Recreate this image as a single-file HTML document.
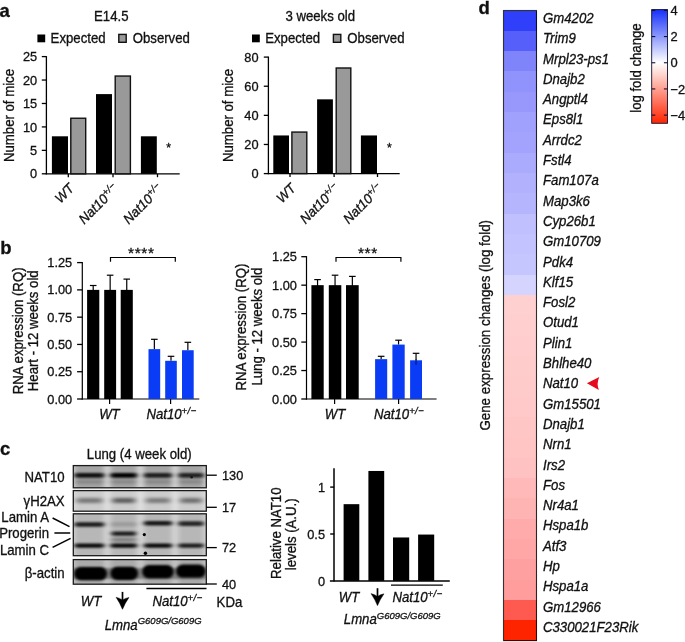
<!DOCTYPE html>
<html><head><meta charset="utf-8"><title>Figure</title>
<style>html,body{margin:0;padding:0;background:#fff}svg{display:block}text{font-family:"Liberation Sans",Arial,Helvetica,sans-serif;fill:#111;stroke:#111;stroke-width:0.3px}</style></head>
<body>
<svg width="685" height="642" viewBox="0 0 685 642">
<rect width="685" height="642" fill="#fff"/>
<text font-size="18.5" text-anchor="start" font-weight="bold" transform="translate(-0.6 16.6)">a</text>
<text font-size="18.5" text-anchor="start" font-weight="bold" transform="translate(0.2 253.5)">b</text>
<text font-size="18.5" text-anchor="start" font-weight="bold" transform="translate(0.1 455.4)">c</text>
<text font-size="18.5" text-anchor="start" font-weight="bold" transform="translate(478.6 14.0) scale(1 0.96)">d</text>
<text font-size="13.2" text-anchor="start" transform="translate(94 20.6) scale(1 1.04)">E14.5</text>
<rect x="37.40" y="34.50" width="7.80" height="7.80" fill="#000"/>
<text font-size="13.2" text-anchor="start" transform="translate(50.599999999999994 42.6) scale(1 1.04)">Expected</text>
<rect x="118.80" y="34.40" width="7.40" height="7.90" fill="#999" stroke="#111" stroke-width="1.4"/>
<text font-size="13.2" text-anchor="start" transform="translate(132.7 42.6) scale(1 1.04)">Observed</text>
<line x1="46.4" y1="56.1" x2="46.4" y2="174.4" stroke="#000" stroke-width="1.3" stroke-linecap="butt"/>
<line x1="45.8" y1="173.8" x2="179.7" y2="173.8" stroke="#000" stroke-width="1.35" stroke-linecap="butt"/>
<line x1="41.8" y1="173.8" x2="46.4" y2="173.8" stroke="#000" stroke-width="1.3" stroke-linecap="butt"/>
<text font-size="12.8" text-anchor="end" transform="translate(37.2 178.4) scale(1 1.04)">0</text>
<line x1="41.8" y1="150.36" x2="46.4" y2="150.36" stroke="#000" stroke-width="1.3" stroke-linecap="butt"/>
<text font-size="12.8" text-anchor="end" transform="translate(37.2 154.96) scale(1 1.04)">5</text>
<line x1="41.8" y1="126.92" x2="46.4" y2="126.92" stroke="#000" stroke-width="1.3" stroke-linecap="butt"/>
<text font-size="12.8" text-anchor="end" transform="translate(37.2 131.52) scale(1 1.04)">10</text>
<line x1="41.8" y1="103.48" x2="46.4" y2="103.48" stroke="#000" stroke-width="1.3" stroke-linecap="butt"/>
<text font-size="12.8" text-anchor="end" transform="translate(37.2 108.08) scale(1 1.04)">15</text>
<line x1="41.8" y1="80.03999999999999" x2="46.4" y2="80.03999999999999" stroke="#000" stroke-width="1.3" stroke-linecap="butt"/>
<text font-size="12.8" text-anchor="end" transform="translate(37.2 84.63999999999999) scale(1 1.04)">20</text>
<line x1="41.8" y1="56.599999999999994" x2="46.4" y2="56.599999999999994" stroke="#000" stroke-width="1.3" stroke-linecap="butt"/>
<text font-size="12.8" text-anchor="end" transform="translate(37.2 61.199999999999996) scale(1 1.04)">25</text>
<rect x="51.90" y="136.30" width="16.10" height="37.50" fill="#000"/>
<rect x="70.80" y="118.24" width="14.90" height="55.56" fill="#999" stroke="#111" stroke-width="1.4"/>
<rect x="96.00" y="94.10" width="16.00" height="79.70" fill="#000"/>
<rect x="115.20" y="76.05" width="15.20" height="97.75" fill="#999" stroke="#111" stroke-width="1.4"/>
<rect x="140.90" y="136.30" width="15.90" height="37.50" fill="#000"/>
<line x1="68.3" y1="173.8" x2="68.3" y2="177.20000000000002" stroke="#000" stroke-width="1.3" stroke-linecap="butt"/>
<text font-size="13.2" text-anchor="end" font-style="italic" transform="translate(74.89999999999999 189.4) rotate(-45) scale(1 1.04)">WT</text>
<line x1="113" y1="173.8" x2="113" y2="177.20000000000002" stroke="#000" stroke-width="1.3" stroke-linecap="butt"/>
<text font-size="13.2" text-anchor="end" font-style="italic" transform="translate(119.6 189.4) rotate(-45) scale(1 1.04)">Nat10<tspan font-size="9.5" dy="-4.6" letter-spacing="0.3">+/&#8722;</tspan></text>
<line x1="157.5" y1="173.8" x2="157.5" y2="177.20000000000002" stroke="#000" stroke-width="1.3" stroke-linecap="butt"/>
<text font-size="13.2" text-anchor="end" font-style="italic" transform="translate(164.1 189.4) rotate(-45) scale(1 1.04)">Nat10<tspan font-size="9.5" dy="-4.6" letter-spacing="0.3">+/&#8722;</tspan></text>
<text font-size="12.2" text-anchor="middle" transform="translate(168.6 151.7)" stroke-width="0.6">*</text>
<text font-size="13.2" text-anchor="middle" transform="translate(13.7 115.5) rotate(-90) scale(1 1.04)">Number of mice</text>
<text font-size="13.2" text-anchor="start" transform="translate(285.4 20.6) scale(1 1.04)">3 weeks old</text>
<rect x="252.00" y="34.50" width="7.80" height="7.80" fill="#000"/>
<text font-size="13.2" text-anchor="start" transform="translate(265.2 42.6) scale(1 1.04)">Expected</text>
<rect x="333.40" y="34.40" width="7.40" height="7.90" fill="#999" stroke="#111" stroke-width="1.4"/>
<text font-size="13.2" text-anchor="start" transform="translate(347.3 42.6) scale(1 1.04)">Observed</text>
<line x1="268.4" y1="56.6" x2="268.4" y2="174.2" stroke="#000" stroke-width="1.3" stroke-linecap="butt"/>
<line x1="267.79999999999995" y1="173.6" x2="399.7" y2="173.6" stroke="#000" stroke-width="1.35" stroke-linecap="butt"/>
<line x1="263.79999999999995" y1="173.6" x2="268.4" y2="173.6" stroke="#000" stroke-width="1.3" stroke-linecap="butt"/>
<text font-size="12.8" text-anchor="end" transform="translate(258.6 178.2) scale(1 1.04)">0</text>
<line x1="263.79999999999995" y1="144.475" x2="268.4" y2="144.475" stroke="#000" stroke-width="1.3" stroke-linecap="butt"/>
<text font-size="12.8" text-anchor="end" transform="translate(258.6 149.075) scale(1 1.04)">20</text>
<line x1="263.79999999999995" y1="115.35" x2="268.4" y2="115.35" stroke="#000" stroke-width="1.3" stroke-linecap="butt"/>
<text font-size="12.8" text-anchor="end" transform="translate(258.6 119.94999999999999) scale(1 1.04)">40</text>
<line x1="263.79999999999995" y1="86.225" x2="268.4" y2="86.225" stroke="#000" stroke-width="1.3" stroke-linecap="butt"/>
<text font-size="12.8" text-anchor="end" transform="translate(258.6 90.82499999999999) scale(1 1.04)">60</text>
<line x1="263.79999999999995" y1="57.099999999999994" x2="268.4" y2="57.099999999999994" stroke="#000" stroke-width="1.3" stroke-linecap="butt"/>
<text font-size="12.8" text-anchor="end" transform="translate(258.6 61.699999999999996) scale(1 1.04)">80</text>
<rect x="273.30" y="135.45" width="15.70" height="38.15" fill="#000"/>
<rect x="291.90" y="132.07" width="14.90" height="41.53" fill="#999" stroke="#111" stroke-width="1.4"/>
<rect x="317.10" y="99.33" width="15.80" height="74.27" fill="#000"/>
<rect x="336.20" y="67.99" width="14.60" height="105.61" fill="#999" stroke="#111" stroke-width="1.4"/>
<rect x="360.90" y="135.45" width="16.10" height="38.15" fill="#000"/>
<line x1="290" y1="173.6" x2="290" y2="177.0" stroke="#000" stroke-width="1.3" stroke-linecap="butt"/>
<text font-size="13.2" text-anchor="end" font-style="italic" transform="translate(296.6 189.2) rotate(-45) scale(1 1.04)">WT</text>
<line x1="334.1" y1="173.6" x2="334.1" y2="177.0" stroke="#000" stroke-width="1.3" stroke-linecap="butt"/>
<text font-size="13.2" text-anchor="end" font-style="italic" transform="translate(340.70000000000005 189.2) rotate(-45) scale(1 1.04)">Nat10<tspan font-size="9.5" dy="-4.6" letter-spacing="0.3">+/&#8722;</tspan></text>
<line x1="377.5" y1="173.6" x2="377.5" y2="177.0" stroke="#000" stroke-width="1.3" stroke-linecap="butt"/>
<text font-size="13.2" text-anchor="end" font-style="italic" transform="translate(384.1 189.2) rotate(-45) scale(1 1.04)">Nat10<tspan font-size="9.5" dy="-4.6" letter-spacing="0.3">+/&#8722;</tspan></text>
<text font-size="12.2" text-anchor="middle" transform="translate(389.3 151.7)" stroke-width="0.6">*</text>
<text font-size="13.2" text-anchor="middle" transform="translate(233.2 115.5) rotate(-90) scale(1 1.04)">Number of mice</text>
<line x1="82.3" y1="262.1" x2="82.3" y2="399.6" stroke="#000" stroke-width="1.2" stroke-linecap="butt"/>
<line x1="81.7" y1="399.0" x2="199.3" y2="399.0" stroke="#000" stroke-width="1.15" stroke-linecap="butt"/>
<line x1="77.1" y1="399.0" x2="82.3" y2="399.0" stroke="#000" stroke-width="1.3" stroke-linecap="butt"/>
<text font-size="12.8" text-anchor="end" transform="translate(72.2 403.6) scale(1 1.04)">0.00</text>
<line x1="77.1" y1="371.72" x2="82.3" y2="371.72" stroke="#000" stroke-width="1.3" stroke-linecap="butt"/>
<text font-size="12.8" text-anchor="end" transform="translate(72.2 376.32000000000005) scale(1 1.04)">0.25</text>
<line x1="77.1" y1="344.44" x2="82.3" y2="344.44" stroke="#000" stroke-width="1.3" stroke-linecap="butt"/>
<text font-size="12.8" text-anchor="end" transform="translate(72.2 349.04) scale(1 1.04)">0.50</text>
<line x1="77.1" y1="317.16" x2="82.3" y2="317.16" stroke="#000" stroke-width="1.3" stroke-linecap="butt"/>
<text font-size="12.8" text-anchor="end" transform="translate(72.2 321.76000000000005) scale(1 1.04)">0.75</text>
<line x1="77.1" y1="289.88" x2="82.3" y2="289.88" stroke="#000" stroke-width="1.3" stroke-linecap="butt"/>
<text font-size="12.8" text-anchor="end" transform="translate(72.2 294.48) scale(1 1.04)">1.00</text>
<line x1="77.1" y1="262.6" x2="82.3" y2="262.6" stroke="#000" stroke-width="1.3" stroke-linecap="butt"/>
<text font-size="12.8" text-anchor="end" transform="translate(72.2 267.20000000000005) scale(1 1.04)">1.25</text>
<line x1="93.19999999999999" y1="285.5" x2="93.19999999999999" y2="291.88" stroke="#000" stroke-width="1.2" stroke-linecap="butt"/>
<line x1="89.89999999999999" y1="285.5" x2="96.49999999999999" y2="285.5" stroke="#000" stroke-width="1.2" stroke-linecap="butt"/>
<rect x="87.10" y="289.88" width="12.20" height="109.12" fill="#000"/>
<line x1="110.15" y1="275.2" x2="110.15" y2="291.88" stroke="#000" stroke-width="1.2" stroke-linecap="butt"/>
<line x1="106.85000000000001" y1="275.2" x2="113.45" y2="275.2" stroke="#000" stroke-width="1.2" stroke-linecap="butt"/>
<rect x="104.20" y="289.88" width="11.90" height="109.12" fill="#000"/>
<line x1="126.75" y1="279.1" x2="126.75" y2="291.88" stroke="#000" stroke-width="1.2" stroke-linecap="butt"/>
<line x1="123.45" y1="279.1" x2="130.05" y2="279.1" stroke="#000" stroke-width="1.2" stroke-linecap="butt"/>
<rect x="120.70" y="289.88" width="12.10" height="109.12" fill="#000"/>
<line x1="154.35" y1="339.3" x2="154.35" y2="349.13216" stroke="#000" stroke-width="1.2" stroke-linecap="butt"/>
<line x1="151.04999999999998" y1="339.3" x2="157.65" y2="339.3" stroke="#000" stroke-width="1.2" stroke-linecap="butt"/>
<rect x="148.50" y="349.13" width="11.70" height="49.87" fill="#0a3cf5"/>
<line x1="171.0" y1="356.3" x2="171.0" y2="360.808" stroke="#000" stroke-width="1.2" stroke-linecap="butt"/>
<line x1="167.7" y1="356.3" x2="174.3" y2="356.3" stroke="#000" stroke-width="1.2" stroke-linecap="butt"/>
<rect x="165.20" y="360.81" width="11.60" height="38.19" fill="#0a3cf5"/>
<line x1="187.85" y1="342.3" x2="187.85" y2="350.22336" stroke="#000" stroke-width="1.2" stroke-linecap="butt"/>
<line x1="184.54999999999998" y1="342.3" x2="191.15" y2="342.3" stroke="#000" stroke-width="1.2" stroke-linecap="butt"/>
<rect x="182.00" y="350.22" width="11.70" height="48.78" fill="#0a3cf5"/>
<line x1="109.6" y1="399.0" x2="109.6" y2="403.9" stroke="#000" stroke-width="1.2" stroke-linecap="butt"/>
<line x1="170.6" y1="399.0" x2="170.6" y2="403.9" stroke="#000" stroke-width="1.2" stroke-linecap="butt"/>
<text font-size="13.2" text-anchor="middle" font-style="italic" transform="translate(109.4 419.2) scale(1 1.04)">WT</text>
<text font-size="13.2" text-anchor="start" font-style="italic" transform="translate(146.4 419.2) scale(1 1.04)">Nat10<tspan font-size="9.5" dy="-4.6" letter-spacing="0.3">+/&#8722;</tspan></text>
<polyline points="110.5,261.8 110.5,257.5 175.3,257.5 175.3,261.8" fill="none" stroke="#000" stroke-width="1.2"/>
<text font-size="15.5" text-anchor="middle" transform="translate(141.3 257.8)" letter-spacing="0.6" stroke-width="0.65">****</text>
<text font-size="13.2" text-anchor="start" transform="translate(22.5 394.20000000000005) rotate(-90) scale(1 1.05)">RNA expression (RQ)</text>
<text font-size="13.2" text-anchor="start" transform="translate(38.400000000000006 391.20000000000005) rotate(-90) scale(1 1.05)">Heart - 12 weeks old</text>
<line x1="306.5" y1="256.2" x2="306.5" y2="399.6" stroke="#000" stroke-width="1.2" stroke-linecap="butt"/>
<line x1="305.9" y1="399.0" x2="436.6" y2="399.0" stroke="#000" stroke-width="1.15" stroke-linecap="butt"/>
<line x1="301.3" y1="399.0" x2="306.5" y2="399.0" stroke="#000" stroke-width="1.3" stroke-linecap="butt"/>
<text font-size="12.8" text-anchor="end" transform="translate(297.0 403.6) scale(1 1.04)">0.00</text>
<line x1="301.3" y1="370.54" x2="306.5" y2="370.54" stroke="#000" stroke-width="1.3" stroke-linecap="butt"/>
<text font-size="12.8" text-anchor="end" transform="translate(297.0 375.14000000000004) scale(1 1.04)">0.25</text>
<line x1="301.3" y1="342.08" x2="306.5" y2="342.08" stroke="#000" stroke-width="1.3" stroke-linecap="butt"/>
<text font-size="12.8" text-anchor="end" transform="translate(297.0 346.68) scale(1 1.04)">0.50</text>
<line x1="301.3" y1="313.62" x2="306.5" y2="313.62" stroke="#000" stroke-width="1.3" stroke-linecap="butt"/>
<text font-size="12.8" text-anchor="end" transform="translate(297.0 318.22) scale(1 1.04)">0.75</text>
<line x1="301.3" y1="285.15999999999997" x2="306.5" y2="285.15999999999997" stroke="#000" stroke-width="1.3" stroke-linecap="butt"/>
<text font-size="12.8" text-anchor="end" transform="translate(297.0 289.76) scale(1 1.04)">1.00</text>
<line x1="301.3" y1="256.7" x2="306.5" y2="256.7" stroke="#000" stroke-width="1.3" stroke-linecap="butt"/>
<text font-size="12.8" text-anchor="end" transform="translate(297.0 261.3) scale(1 1.04)">1.25</text>
<line x1="317.54999999999995" y1="279.6" x2="317.54999999999995" y2="287.15999999999997" stroke="#000" stroke-width="1.2" stroke-linecap="butt"/>
<line x1="314.24999999999994" y1="279.6" x2="320.84999999999997" y2="279.6" stroke="#000" stroke-width="1.2" stroke-linecap="butt"/>
<rect x="311.40" y="285.16" width="12.30" height="113.84" fill="#000"/>
<line x1="335.05" y1="275.2" x2="335.05" y2="287.15999999999997" stroke="#000" stroke-width="1.2" stroke-linecap="butt"/>
<line x1="331.75" y1="275.2" x2="338.35" y2="275.2" stroke="#000" stroke-width="1.2" stroke-linecap="butt"/>
<rect x="328.80" y="285.16" width="12.50" height="113.84" fill="#000"/>
<line x1="352.35" y1="276.4" x2="352.35" y2="287.15999999999997" stroke="#000" stroke-width="1.2" stroke-linecap="butt"/>
<line x1="349.05" y1="276.4" x2="355.65000000000003" y2="276.4" stroke="#000" stroke-width="1.2" stroke-linecap="butt"/>
<rect x="346.00" y="285.16" width="12.70" height="113.84" fill="#000"/>
<line x1="381.15000000000003" y1="356.3" x2="381.15000000000003" y2="359.156" stroke="#000" stroke-width="1.2" stroke-linecap="butt"/>
<line x1="377.85" y1="356.3" x2="384.45000000000005" y2="356.3" stroke="#000" stroke-width="1.2" stroke-linecap="butt"/>
<rect x="375.10" y="359.16" width="12.10" height="39.84" fill="#0a3cf5"/>
<line x1="398.54999999999995" y1="340.2" x2="398.54999999999995" y2="344.58448" stroke="#000" stroke-width="1.2" stroke-linecap="butt"/>
<line x1="395.24999999999994" y1="340.2" x2="401.84999999999997" y2="340.2" stroke="#000" stroke-width="1.2" stroke-linecap="butt"/>
<rect x="392.40" y="344.58" width="12.30" height="54.42" fill="#0a3cf5"/>
<line x1="416.05" y1="353.3" x2="416.05" y2="360.2944" stroke="#000" stroke-width="1.2" stroke-linecap="butt"/>
<line x1="412.75" y1="353.3" x2="419.35" y2="353.3" stroke="#000" stroke-width="1.2" stroke-linecap="butt"/>
<rect x="410.10" y="360.29" width="11.90" height="38.71" fill="#0a3cf5"/>
<line x1="416.05" y1="359.2944" x2="416.05" y2="364.7944" stroke="#0a1a70" stroke-width="1.2" stroke-linecap="butt"/>
<line x1="334.6" y1="399.0" x2="334.6" y2="403.9" stroke="#000" stroke-width="1.2" stroke-linecap="butt"/>
<line x1="398.6" y1="399.0" x2="398.6" y2="403.9" stroke="#000" stroke-width="1.2" stroke-linecap="butt"/>
<text font-size="13.2" text-anchor="middle" font-style="italic" transform="translate(335.0 419.2) scale(1 1.04)">WT</text>
<text font-size="13.2" text-anchor="start" font-style="italic" transform="translate(374.0 419.2) scale(1 1.04)">Nat10<tspan font-size="9.5" dy="-4.6" letter-spacing="0.3">+/&#8722;</tspan></text>
<polyline points="336,261.8 336,257.5 400.9,257.5 400.9,261.8" fill="none" stroke="#000" stroke-width="1.2"/>
<text font-size="15.5" text-anchor="middle" transform="translate(367.9 257.8)" letter-spacing="0.6" stroke-width="0.65">***</text>
<text font-size="13.2" text-anchor="start" transform="translate(245.89999999999998 390.40000000000003) rotate(-90) scale(1 1.05)">RNA expression (RQ)</text>
<text font-size="13.2" text-anchor="start" transform="translate(262.2 385.6) rotate(-90) scale(1 1.05)">Lung - 12 weeks old</text>
<text font-size="13.2" text-anchor="start" transform="translate(86.8 458.5) scale(1 1.04)">Lung (4 week old)</text>
<text font-size="13.2" text-anchor="end" transform="translate(64.6 481.7) scale(1 1.04)">NAT10</text>
<text font-size="13.2" text-anchor="end" transform="translate(64.6 506.4) scale(1 1.04)">&#947;H2AX</text>
<text font-size="13.2" text-anchor="end" transform="translate(49.0 522.1) scale(1 1.04)">Lamin A</text>
<text font-size="13.2" text-anchor="end" transform="translate(49.0 538.3) scale(1 1.04)">Progerin</text>
<text font-size="13.2" text-anchor="end" transform="translate(49.0 554.7) scale(1 1.04)">Lamin C</text>
<text font-size="13.2" text-anchor="end" transform="translate(64.6 577.8) scale(1 1.04)">&#946;-actin</text>
<line x1="52.6" y1="518" x2="69.5" y2="526.6" stroke="#000" stroke-width="1.5" stroke-linecap="butt"/>
<line x1="54.4" y1="533" x2="70.2" y2="533" stroke="#000" stroke-width="1.5" stroke-linecap="butt"/>
<line x1="52.6" y1="547.4" x2="70.6" y2="538.3" stroke="#000" stroke-width="1.5" stroke-linecap="butt"/>
<defs>
<filter id="b1" x="-20%" y="-200%" width="140%" height="500%"><feGaussianBlur stdDeviation="2.4 1.25"/></filter>
<filter id="b2" x="-20%" y="-200%" width="140%" height="500%"><feGaussianBlur stdDeviation="3 1.7"/></filter>
<filter id="b3" x="-20%" y="-100%" width="140%" height="300%"><feGaussianBlur stdDeviation="1.7 1.3"/></filter>
<filter id="b4" x="-30%" y="-30%" width="160%" height="160%"><feGaussianBlur stdDeviation="2.5 3"/></filter>
<clipPath id="cp0"><rect x="73.3" y="465.6" width="133.0" height="22.19999999999999"/></clipPath>
<clipPath id="cp1"><rect x="73.3" y="490.6" width="133.0" height="20.599999999999966"/></clipPath>
<clipPath id="cp2"><rect x="73.3" y="513.8" width="133.0" height="41.90000000000009"/></clipPath>
<clipPath id="cp3"><rect x="73.3" y="559.6" width="133.0" height="24.600000000000023"/></clipPath>
</defs>
<rect x="73.30" y="465.60" width="133.00" height="22.20" fill="#d2d2d2"/>
<g clip-path="url(#cp0)">
<rect x="74.9" y="461.6" width="29" height="30.19999999999999" fill="#000" opacity="0.22" filter="url(#b4)"/>
<rect x="110.7" y="461.6" width="26" height="30.19999999999999" fill="#000" opacity="0.22" filter="url(#b4)"/>
<rect x="144.2" y="461.6" width="27.5" height="30.19999999999999" fill="#000" opacity="0.22" filter="url(#b4)"/>
<rect x="178.5" y="461.6" width="25" height="30.19999999999999" fill="#000" opacity="0.22" filter="url(#b4)"/>
<rect x="74.4" y="473.1" width="30" height="4.6" rx="2.3" fill="#000" opacity="0.9" filter="url(#b1)"/>
<rect x="74.9" y="480.1" width="29" height="3.4" rx="1.7" fill="#000" opacity="0.2" filter="url(#b2)"/>
<rect x="110.2" y="473.1" width="27" height="4.6" rx="2.3" fill="#000" opacity="1.0" filter="url(#b1)"/>
<rect x="110.7" y="480.1" width="26" height="3.4" rx="1.7" fill="#000" opacity="0.2" filter="url(#b2)"/>
<rect x="143.7" y="473.1" width="28.5" height="4.6" rx="2.3" fill="#000" opacity="0.82" filter="url(#b1)"/>
<rect x="144.2" y="480.1" width="27.5" height="3.4" rx="1.7" fill="#000" opacity="0.2" filter="url(#b2)"/>
<rect x="178.0" y="473.1" width="26" height="4.6" rx="2.3" fill="#000" opacity="0.8" filter="url(#b1)"/>
<rect x="178.5" y="480.1" width="25" height="3.4" rx="1.7" fill="#000" opacity="0.2" filter="url(#b2)"/>
<circle cx="191.6" cy="477.2" r="1.3" fill="#000" opacity="0.7"/>
</g>
<rect x="73.30" y="465.60" width="133.00" height="22.20" fill="none" stroke="#1a1a1a" stroke-width="1.3"/>
<rect x="73.30" y="490.60" width="133.00" height="20.60" fill="#dedede"/>
<g clip-path="url(#cp1)">
<rect x="74.9" y="486.6" width="29" height="28.599999999999966" fill="#000" opacity="0.08" filter="url(#b4)"/>
<rect x="110.7" y="486.6" width="26" height="28.599999999999966" fill="#000" opacity="0.08" filter="url(#b4)"/>
<rect x="144.2" y="486.6" width="27.5" height="28.599999999999966" fill="#000" opacity="0.08" filter="url(#b4)"/>
<rect x="178.5" y="486.6" width="25" height="28.599999999999966" fill="#000" opacity="0.08" filter="url(#b4)"/>
<rect x="76.4" y="498.1" width="26" height="5.0" rx="2.5" fill="#000" opacity="0.42" filter="url(#b2)"/>
<rect x="112.2" y="498.1" width="23" height="5.0" rx="2.5" fill="#000" opacity="0.55" filter="url(#b2)"/>
<rect x="145.7" y="498.1" width="24.5" height="5.0" rx="2.5" fill="#000" opacity="0.4" filter="url(#b2)"/>
<rect x="180.0" y="498.1" width="22" height="5.0" rx="2.5" fill="#000" opacity="0.46" filter="url(#b2)"/>
</g>
<rect x="73.30" y="490.60" width="133.00" height="20.60" fill="none" stroke="#1a1a1a" stroke-width="1.3"/>
<rect x="73.30" y="513.80" width="133.00" height="41.90" fill="#d3d3d3"/>
<g clip-path="url(#cp2)">
<rect x="74.9" y="509.79999999999995" width="29" height="49.90000000000009" fill="#000" opacity="0.13" filter="url(#b4)"/>
<rect x="110.7" y="509.79999999999995" width="26" height="49.90000000000009" fill="#000" opacity="0.13" filter="url(#b4)"/>
<rect x="144.2" y="509.79999999999995" width="27.5" height="49.90000000000009" fill="#000" opacity="0.13" filter="url(#b4)"/>
<rect x="178.5" y="509.79999999999995" width="25" height="49.90000000000009" fill="#000" opacity="0.13" filter="url(#b4)"/>
<rect x="74.4" y="522.2" width="30" height="4.6" rx="2.3" fill="#000" opacity="0.85" filter="url(#b1)"/>
<rect x="110.2" y="521.9" width="27" height="4.6" rx="2.3" fill="#000" opacity="0.14" filter="url(#b1)"/>
<rect x="143.7" y="521.0" width="28.5" height="4.6" rx="2.3" fill="#000" opacity="0.88" filter="url(#b1)"/>
<rect x="178.0" y="521.3" width="26" height="4.6" rx="2.3" fill="#000" opacity="0.8" filter="url(#b1)"/>
<rect x="111.2" y="531.5" width="25" height="4.2" rx="2.1" fill="#000" opacity="0.85" filter="url(#b1)"/>
<rect x="111.2" y="538.3" width="25" height="3.0" rx="1.5" fill="#000" opacity="0.4" filter="url(#b2)"/>
<rect x="74.4" y="543.5" width="30" height="4.2" rx="2.1" fill="#000" opacity="0.95" filter="url(#b1)"/>
<rect x="110.2" y="543.5" width="27" height="4.2" rx="2.1" fill="#000" opacity="0.95" filter="url(#b1)"/>
<rect x="143.7" y="543.5" width="28.5" height="4.2" rx="2.1" fill="#000" opacity="0.95" filter="url(#b1)"/>
<rect x="178.0" y="543.5" width="26" height="4.2" rx="2.1" fill="#000" opacity="0.85" filter="url(#b1)"/>
<circle cx="144.3" cy="534.6" r="1.6" fill="#000"/>
<circle cx="145.4" cy="553.3" r="1.7" fill="#000"/>
</g>
<rect x="73.30" y="513.80" width="133.00" height="41.90" fill="none" stroke="#1a1a1a" stroke-width="1.3"/>
<rect x="73.30" y="559.60" width="133.00" height="24.60" fill="#c6c6c6"/>
<g clip-path="url(#cp3)">
<rect x="74.9" y="555.6" width="29" height="32.60000000000002" fill="#000" opacity="0.14" filter="url(#b4)"/>
<rect x="110.7" y="555.6" width="26" height="32.60000000000002" fill="#000" opacity="0.14" filter="url(#b4)"/>
<rect x="144.2" y="555.6" width="27.5" height="32.60000000000002" fill="#000" opacity="0.14" filter="url(#b4)"/>
<rect x="178.5" y="555.6" width="25" height="32.60000000000002" fill="#000" opacity="0.14" filter="url(#b4)"/>
<rect x="73.3" y="568" width="133.0" height="11" fill="#000" opacity="0.35" filter="url(#b3)"/>
<rect x="74.1" y="567.0" width="33" height="13.2" rx="6.6" fill="#000" opacity="1.0" filter="url(#b3)"/>
<rect x="110.5" y="566.7" width="27.5" height="13.2" rx="6.6" fill="#000" opacity="1.0" filter="url(#b3)"/>
<rect x="142.2" y="565.1" width="31.5" height="13.2" rx="6.6" fill="#000" opacity="1.0" filter="url(#b3)"/>
<rect x="176.1" y="564.4" width="29.5" height="13.2" rx="6.6" fill="#000" opacity="1.0" filter="url(#b3)"/>
</g>
<rect x="73.30" y="559.60" width="133.00" height="24.60" fill="none" stroke="#1a1a1a" stroke-width="1.3"/>
<line x1="206.3" y1="475.2" x2="216.8" y2="475.2" stroke="#000" stroke-width="1.3" stroke-linecap="butt"/>
<text font-size="12.8" text-anchor="start" transform="translate(222.0 479.6) scale(1 1.04)">130</text>
<line x1="206.3" y1="507.3" x2="216.8" y2="507.3" stroke="#000" stroke-width="1.3" stroke-linecap="butt"/>
<text font-size="12.8" text-anchor="start" transform="translate(222.0 512.0) scale(1 1.04)">17</text>
<line x1="206.3" y1="547.6" x2="216.8" y2="547.6" stroke="#000" stroke-width="1.3" stroke-linecap="butt"/>
<text font-size="12.8" text-anchor="start" transform="translate(222.0 552.2) scale(1 1.04)">72</text>
<line x1="206.3" y1="584.0" x2="216.8" y2="584.0" stroke="#000" stroke-width="1.3" stroke-linecap="butt"/>
<text font-size="12.8" text-anchor="start" transform="translate(222.0 588.7) scale(1 1.04)">40</text>
<text font-size="13.2" text-anchor="start" transform="translate(216.6 607.3) scale(1 1.04)">KDa</text>
<line x1="146.4" y1="588.5" x2="206.5" y2="588.5" stroke="#000" stroke-width="1.3" stroke-linecap="butt"/>
<text font-size="13.2" text-anchor="middle" font-style="italic" transform="translate(91.1 605.7) scale(1 1.04)">WT</text>
<text font-size="13.2" text-anchor="start" font-style="italic" transform="translate(152.4 605.7) scale(1 1.04)">Nat10<tspan font-size="9.5" dy="-4.6" letter-spacing="0.3">+/&#8722;</tspan></text>
<line x1="122.5" y1="591.9" x2="122.5" y2="602.0" stroke="#000" stroke-width="1.7" stroke-linecap="butt"/>
<path d="M116.0,597.2 Q119.9,598.0 122.5,600.1 Q125.1,598.0 129.0,597.4 Q124.8,603.4 122.6,609.2 L122.4,609.2 Q120.2,603.4 116.0,597.2 Z" fill="#000" stroke="#000" stroke-width="0.4" stroke-linejoin="round"/>
<text font-size="13.2" text-anchor="start" font-style="italic" transform="translate(104.7 629.5) scale(1 1.04)">Lmna<tspan font-size="9.5" dy="-5.2">G609G/G609G</tspan></text>
<line x1="334.0" y1="468.3" x2="334.0" y2="581.6" stroke="#000" stroke-width="1.5" stroke-linecap="butt"/>
<line x1="329.9" y1="580.9" x2="449.8" y2="580.9" stroke="#000" stroke-width="1.5" stroke-linecap="butt"/>
<text font-size="12.8" text-anchor="end" transform="translate(325.0 585.5) scale(1 1.04)">0</text>
<line x1="330.2" y1="534.0" x2="334.2" y2="534.0" stroke="#000" stroke-width="1.4" stroke-linecap="butt"/>
<text font-size="12.8" text-anchor="end" transform="translate(325.0 538.6) scale(1 1.04)">0.5</text>
<line x1="330.2" y1="487.09999999999997" x2="334.2" y2="487.09999999999997" stroke="#000" stroke-width="1.4" stroke-linecap="butt"/>
<text font-size="12.8" text-anchor="end" transform="translate(325.0 491.7) scale(1 1.04)">1</text>
<rect x="343.60" y="504.17" width="15.70" height="76.73" fill="#000"/>
<rect x="368.40" y="470.97" width="15.80" height="109.93" fill="#000"/>
<rect x="393.00" y="537.47" width="16.20" height="43.43" fill="#000"/>
<rect x="418.10" y="534.56" width="16.10" height="46.34" fill="#000"/>
<line x1="391" y1="585.1" x2="442.8" y2="585.1" stroke="#000" stroke-width="1.2" stroke-linecap="butt"/>
<text font-size="13.2" text-anchor="middle" font-style="italic" transform="translate(349.0 601.5) scale(1 1.04)">WT</text>
<text font-size="13.2" text-anchor="start" font-style="italic" transform="translate(392.4 601.5) scale(1 1.04)">Nat10<tspan font-size="9.5" dy="-4.6" letter-spacing="0.3">+/&#8722;</tspan></text>
<line x1="377.5" y1="588.2" x2="377.5" y2="598.4" stroke="#000" stroke-width="1.7" stroke-linecap="butt"/>
<path d="M371.0,593.6 Q374.9,594.4 377.5,596.5 Q380.1,594.4 384.0,593.8 Q379.8,599.8 377.6,605.6 L377.4,605.6 Q375.2,599.8 371.0,593.6 Z" fill="#000" stroke="#000" stroke-width="0.4" stroke-linejoin="round"/>
<text font-size="13.2" text-anchor="start" font-style="italic" transform="translate(343.8 623.9) scale(1 1.04)">Lmna<tspan font-size="9.5" dy="-5.2">G609G/G609G</tspan></text>
<text font-size="13.2" text-anchor="start" transform="translate(281.2 578.9) rotate(-90) scale(1 1.04)">Relative NAT10</text>
<text font-size="13.2" text-anchor="start" transform="translate(296.2 570.2) rotate(-90) scale(1 1.04)">levels (A.U.)</text>
<rect x="503.5" y="10.50" width="33.00" height="630.10" fill="#3040fa" shape-rendering="crispEdges"/>
<text font-size="13.2" text-anchor="start" font-style="italic" transform="translate(543.0 22.9) scale(1 1.04)">Gm4202</text>
<rect x="503.5" y="30.83" width="33.00" height="609.77" fill="#565ffa" shape-rendering="crispEdges"/>
<text font-size="13.2" text-anchor="start" font-style="italic" transform="translate(543.0 43.2) scale(1 1.04)">Trim9</text>
<rect x="503.5" y="51.15" width="33.00" height="589.45" fill="#8084fa" shape-rendering="crispEdges"/>
<text font-size="13.2" text-anchor="start" font-style="italic" transform="translate(543.0 63.5) scale(1 1.04)">Mrpl23-ps1</text>
<rect x="503.5" y="71.48" width="33.00" height="569.12" fill="#9193fc" shape-rendering="crispEdges"/>
<text font-size="13.2" text-anchor="start" font-style="italic" transform="translate(543.0 83.80000000000001) scale(1 1.04)">Dnajb2</text>
<rect x="503.5" y="91.80" width="33.00" height="548.80" fill="#9898fc" shape-rendering="crispEdges"/>
<text font-size="13.2" text-anchor="start" font-style="italic" transform="translate(543.0 104.1) scale(1 1.04)">Angptl4</text>
<rect x="503.5" y="112.13" width="33.00" height="528.47" fill="#a0a0fd" shape-rendering="crispEdges"/>
<text font-size="13.2" text-anchor="start" font-style="italic" transform="translate(543.0 124.4) scale(1 1.04)">Eps8l1</text>
<rect x="503.5" y="132.45" width="33.00" height="508.15" fill="#a3a3fd" shape-rendering="crispEdges"/>
<text font-size="13.2" text-anchor="start" font-style="italic" transform="translate(543.0 144.70000000000002) scale(1 1.04)">Arrdc2</text>
<rect x="503.5" y="152.78" width="33.00" height="487.82" fill="#ababfe" shape-rendering="crispEdges"/>
<text font-size="13.2" text-anchor="start" font-style="italic" transform="translate(543.0 165.0) scale(1 1.04)">Fstl4</text>
<rect x="503.5" y="173.11" width="33.00" height="467.49" fill="#b1b1fe" shape-rendering="crispEdges"/>
<text font-size="13.2" text-anchor="start" font-style="italic" transform="translate(543.0 185.3) scale(1 1.04)">Fam107a</text>
<rect x="503.5" y="193.43" width="33.00" height="447.17" fill="#b5b5fe" shape-rendering="crispEdges"/>
<text font-size="13.2" text-anchor="start" font-style="italic" transform="translate(543.0 205.60000000000002) scale(1 1.04)">Map3k6</text>
<rect x="503.5" y="213.76" width="33.00" height="426.84" fill="#c0c0ff" shape-rendering="crispEdges"/>
<text font-size="13.2" text-anchor="start" font-style="italic" transform="translate(543.0 225.9) scale(1 1.04)">Cyp26b1</text>
<rect x="503.5" y="234.08" width="33.00" height="406.52" fill="#c3c3ff" shape-rendering="crispEdges"/>
<text font-size="13.2" text-anchor="start" font-style="italic" transform="translate(543.0 246.20000000000002) scale(1 1.04)">Gm10709</text>
<rect x="503.5" y="254.41" width="33.00" height="386.19" fill="#c6c6ff" shape-rendering="crispEdges"/>
<text font-size="13.2" text-anchor="start" font-style="italic" transform="translate(543.0 266.5) scale(1 1.04)">Pdk4</text>
<rect x="503.5" y="274.74" width="33.00" height="365.86" fill="#d4d4ff" shape-rendering="crispEdges"/>
<text font-size="13.2" text-anchor="start" font-style="italic" transform="translate(543.0 286.8) scale(1 1.04)">Klf15</text>
<rect x="503.5" y="295.06" width="33.00" height="345.54" fill="#ffd0d0" shape-rendering="crispEdges"/>
<text font-size="13.2" text-anchor="start" font-style="italic" transform="translate(543.0 307.09999999999997) scale(1 1.04)">Fosl2</text>
<rect x="503.5" y="315.39" width="33.00" height="325.21" fill="#ffcfcf" shape-rendering="crispEdges"/>
<text font-size="13.2" text-anchor="start" font-style="italic" transform="translate(543.0 327.4) scale(1 1.04)">Otud1</text>
<rect x="503.5" y="335.71" width="33.00" height="304.89" fill="#ffcdcd" shape-rendering="crispEdges"/>
<text font-size="13.2" text-anchor="start" font-style="italic" transform="translate(543.0 347.7) scale(1 1.04)">Plin1</text>
<rect x="503.5" y="356.04" width="33.00" height="284.56" fill="#ffcccc" shape-rendering="crispEdges"/>
<text font-size="13.2" text-anchor="start" font-style="italic" transform="translate(543.0 368.0) scale(1 1.04)">Bhlhe40</text>
<rect x="503.5" y="376.36" width="33.00" height="264.24" fill="#ffcaca" shape-rendering="crispEdges"/>
<text font-size="13.2" text-anchor="start" font-style="italic" transform="translate(543.0 388.3) scale(1 1.04)">Nat10</text>
<rect x="503.5" y="396.69" width="33.00" height="243.91" fill="#ffc9c9" shape-rendering="crispEdges"/>
<text font-size="13.2" text-anchor="start" font-style="italic" transform="translate(543.0 408.59999999999997) scale(1 1.04)">Gm15501</text>
<rect x="503.5" y="417.02" width="33.00" height="223.58" fill="#ffc6c6" shape-rendering="crispEdges"/>
<text font-size="13.2" text-anchor="start" font-style="italic" transform="translate(543.0 428.9) scale(1 1.04)">Dnajb1</text>
<rect x="503.5" y="437.34" width="33.00" height="203.26" fill="#ffc4c4" shape-rendering="crispEdges"/>
<text font-size="13.2" text-anchor="start" font-style="italic" transform="translate(543.0 449.2) scale(1 1.04)">Nrn1</text>
<rect x="503.5" y="457.67" width="33.00" height="182.93" fill="#ffc2c2" shape-rendering="crispEdges"/>
<text font-size="13.2" text-anchor="start" font-style="italic" transform="translate(543.0 469.5) scale(1 1.04)">Irs2</text>
<rect x="503.5" y="477.99" width="33.00" height="162.61" fill="#ffb9b9" shape-rendering="crispEdges"/>
<text font-size="13.2" text-anchor="start" font-style="italic" transform="translate(543.0 489.8) scale(1 1.04)">Fos</text>
<rect x="503.5" y="498.32" width="33.00" height="142.28" fill="#ffb4b4" shape-rendering="crispEdges"/>
<text font-size="13.2" text-anchor="start" font-style="italic" transform="translate(543.0 510.1) scale(1 1.04)">Nr4a1</text>
<rect x="503.5" y="518.65" width="33.00" height="121.95" fill="#ffabab" shape-rendering="crispEdges"/>
<text font-size="13.2" text-anchor="start" font-style="italic" transform="translate(543.0 530.4) scale(1 1.04)">Hspa1b</text>
<rect x="503.5" y="538.97" width="33.00" height="101.63" fill="#ffa6a6" shape-rendering="crispEdges"/>
<text font-size="13.2" text-anchor="start" font-style="italic" transform="translate(543.0 550.7) scale(1 1.04)">Atf3</text>
<rect x="503.5" y="559.30" width="33.00" height="81.30" fill="#ffa0a0" shape-rendering="crispEdges"/>
<text font-size="13.2" text-anchor="start" font-style="italic" transform="translate(543.0 571.0) scale(1 1.04)">Hp</text>
<rect x="503.5" y="579.62" width="33.00" height="60.98" fill="#ff9c9c" shape-rendering="crispEdges"/>
<text font-size="13.2" text-anchor="start" font-style="italic" transform="translate(543.0 591.3) scale(1 1.04)">Hspa1a</text>
<rect x="503.5" y="599.95" width="33.00" height="40.65" fill="#ff5a50" shape-rendering="crispEdges"/>
<text font-size="13.2" text-anchor="start" font-style="italic" transform="translate(543.0 611.6) scale(1 1.04)">Gm12966</text>
<rect x="503.5" y="620.27" width="33.00" height="20.33" fill="#ff2400" shape-rendering="crispEdges"/>
<text font-size="13.2" text-anchor="start" font-style="italic" transform="translate(543.0 631.9) scale(1 1.04)">C330021F23Rik</text>
<rect x="503.5" y="10.5" width="33.0" height="630.1" fill="none" stroke="#000" stroke-opacity="0.8" stroke-width="1.1"/>
<path d="M586.9,383.2 L599.3,377.0 Q596.2,383.6 598.9,389.9 Z" fill="#e60a1e"/>
<text font-size="13.35" text-anchor="start" transform="translate(489.8 430.6) rotate(-90) scale(1 1.04)">Gene expression changes (log fold)</text>
<defs><linearGradient id="cb" x1="0" y1="0" x2="0" y2="1"><stop offset="0" stop-color="#1630fa"/><stop offset="0.467" stop-color="#ffffff"/><stop offset="1" stop-color="#ff2400"/></linearGradient></defs>
<rect x="651.70" y="9.60" width="15.80" height="113.70" fill="url(#cb)" stroke="#101030" stroke-width="0.9"/>
<line x1="651.7" y1="10.39" x2="655.3000000000001" y2="10.39" stroke="#101030" stroke-width="1.1" stroke-linecap="butt"/>
<line x1="663.9" y1="10.39" x2="667.5" y2="10.39" stroke="#101030" stroke-width="1.1" stroke-linecap="butt"/>
<text font-size="12.9" text-anchor="start" transform="translate(670.4 14.99) scale(1 1.04)">4</text>
<line x1="651.7" y1="36.57" x2="655.3000000000001" y2="36.57" stroke="#101030" stroke-width="1.1" stroke-linecap="butt"/>
<line x1="663.9" y1="36.57" x2="667.5" y2="36.57" stroke="#101030" stroke-width="1.1" stroke-linecap="butt"/>
<text font-size="12.9" text-anchor="start" transform="translate(670.4 41.17) scale(1 1.04)">2</text>
<line x1="651.7" y1="62.75" x2="655.3000000000001" y2="62.75" stroke="#101030" stroke-width="1.1" stroke-linecap="butt"/>
<line x1="663.9" y1="62.75" x2="667.5" y2="62.75" stroke="#101030" stroke-width="1.1" stroke-linecap="butt"/>
<text font-size="12.9" text-anchor="start" transform="translate(670.4 67.35) scale(1 1.04)">0</text>
<line x1="651.7" y1="88.93" x2="655.3000000000001" y2="88.93" stroke="#101030" stroke-width="1.1" stroke-linecap="butt"/>
<line x1="663.9" y1="88.93" x2="667.5" y2="88.93" stroke="#101030" stroke-width="1.1" stroke-linecap="butt"/>
<text font-size="12.9" text-anchor="start" transform="translate(670.4 93.53) scale(1 1.04)">&#8722;2</text>
<line x1="651.7" y1="115.11" x2="655.3000000000001" y2="115.11" stroke="#101030" stroke-width="1.1" stroke-linecap="butt"/>
<line x1="663.9" y1="115.11" x2="667.5" y2="115.11" stroke="#101030" stroke-width="1.1" stroke-linecap="butt"/>
<text font-size="12.9" text-anchor="start" transform="translate(670.4 119.71) scale(1 1.04)">&#8722;4</text>
<text font-size="13.2" text-anchor="start" transform="translate(641.2 112.8) rotate(-90) scale(1 1.04)">log fold change</text>
</svg>
</body></html>
